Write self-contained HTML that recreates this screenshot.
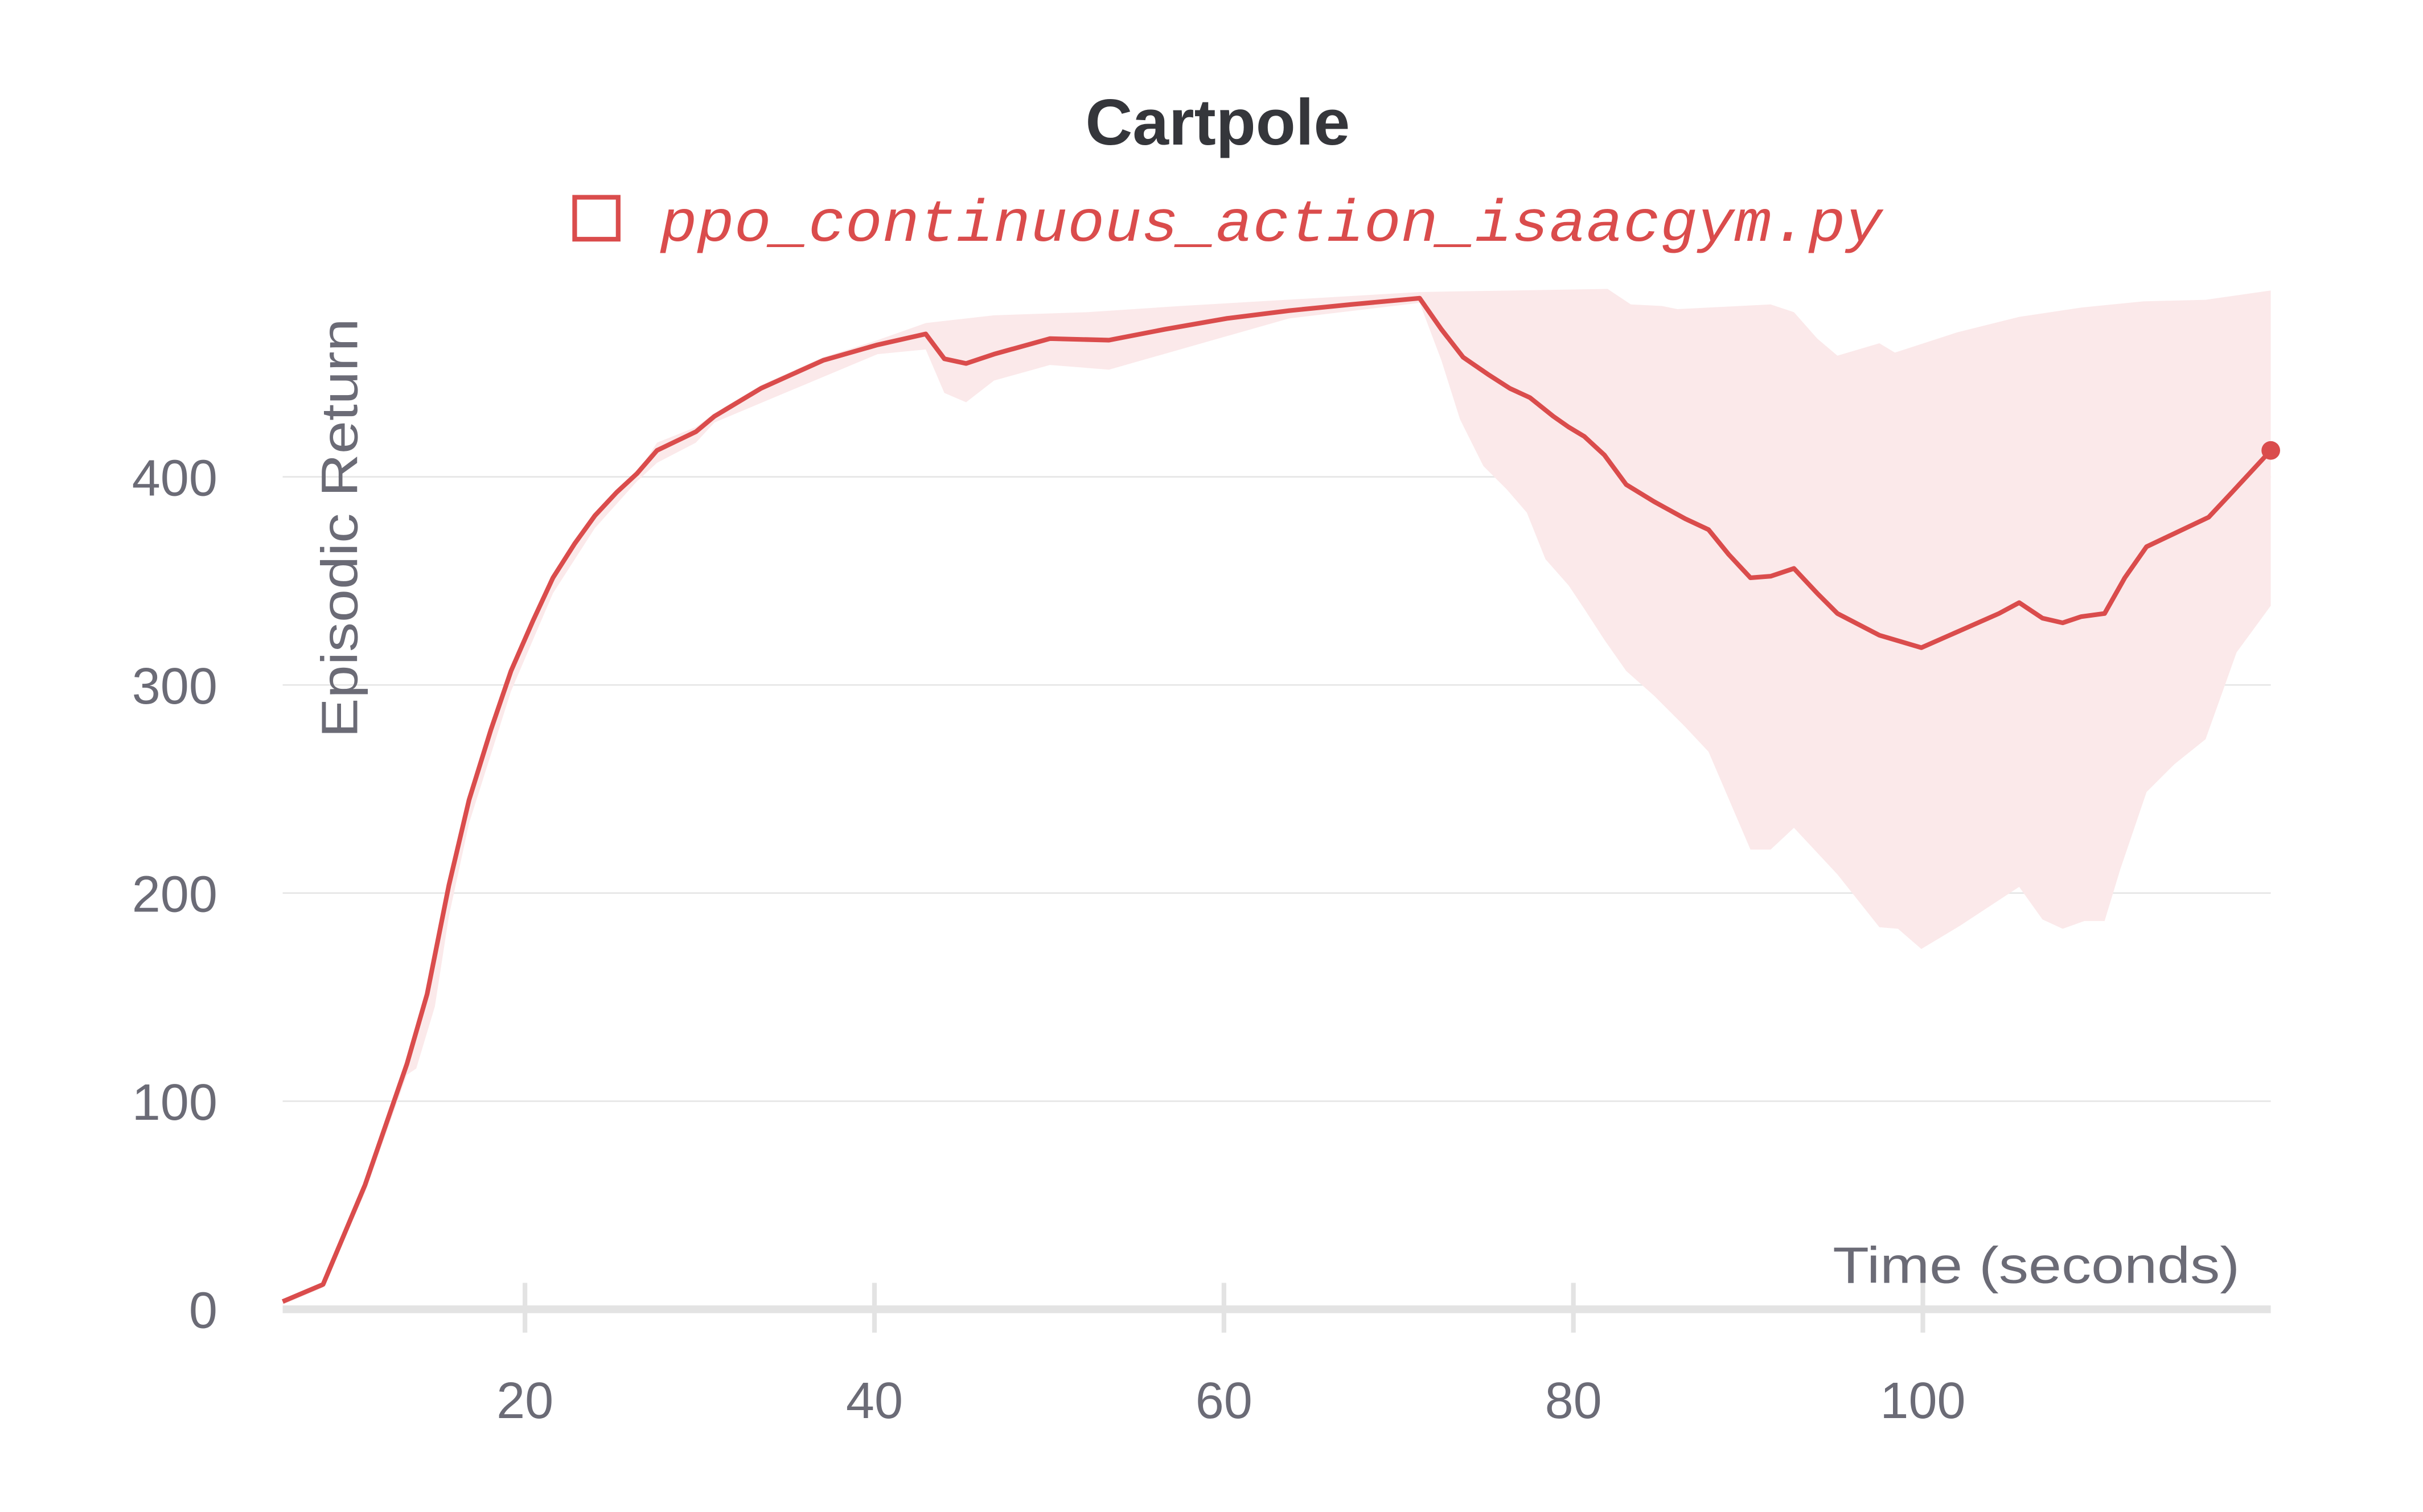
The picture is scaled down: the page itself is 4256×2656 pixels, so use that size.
<!DOCTYPE html>
<html><head><meta charset="utf-8"><style>html,body{margin:0;padding:0;background:#fff;}svg{display:block}</style></head>
<body>
<svg width="4256" height="2656" viewBox="0 0 1560 973.5" xmlns="http://www.w3.org/2000/svg">
<rect width="1560" height="973.5" fill="#fff"/>
<g stroke="#e6e6e6" stroke-width="1">
<line x1="182" y1="709" x2="1462" y2="709"/>
<line x1="182" y1="575" x2="1462" y2="575"/>
<line x1="182" y1="441" x2="1462" y2="441"/>
<line x1="182" y1="307" x2="1462" y2="307"/>
</g>
<polygon fill="#fbe9ea" points="182,838 208,827 235,763 262,685 275,640 289,570 302,515 316,470 329,432 343,400 356,372 370,350 383,332 397,317 410,305 423,285 448,275 460,266 490,248 530,230 565,219 596,208 640,203 700,201 760,197 914,188 1035,186 1050,196 1070,197 1080,199 1100,198 1140,196 1155,201 1170,218 1183,229 1210,221 1220,227 1260,214 1300,204 1340,198 1380,194 1420,193 1462,187 1462,390 1440,420 1420,476 1400,492 1382,510 1365,560 1355,593 1342,593 1328,598 1315,592 1300,571 1262,596 1237,611 1222,598 1210,597 1183,563 1155,533 1140,547 1127,547 1100,484 1085,468 1065,448 1047,432 1033,412 1020,392 1010,377 995,360 983,330 970,315 955,300 940,270 928,232 914,195 830,205 714,238 676,235 640,245 622,259 608,253 596,225 565,228 460,272 448,285 423,298 410,310 383,340 356,382 329,445 302,530 289,590 280,648 268,688 262,692 235,768 208,829 182,840"/>
<polyline fill="none" stroke="#da4c4c" stroke-width="3" stroke-linejoin="round" points="182,838 208,827 235,763 262,685 275,640 289,570 302,515 316,470 329,432 343,400 356,372 370,350 383,332 397,317 410,305 423,290 448,278 460,268 490,250 530,232 565,222 596,215 608,231 622,234 640,228 676,218 714,219 750,212 790,205 830,200 870,196 914,192 928,212 942,230 958,241 972,250 985,256 1000,268 1010,275 1020,281 1033,293 1047,312 1065,323 1085,334 1100,341 1113,357 1127,372 1140,371 1155,366 1170,382 1183,395 1210,409 1237,417 1262,406 1287,395 1300,388 1315,398 1328,401 1340,397 1355,395 1368,372 1382,352 1422,333 1437,317 1462,290"/>
<circle cx="1462" cy="290" r="6" fill="#da4c4c"/>
<line x1="182" y1="843" x2="1462" y2="843" stroke="#e3e3e3" stroke-width="5"/>
<g stroke="#e3e3e3" stroke-width="3">
<line x1="338" y1="826" x2="338" y2="858"/><line x1="563" y1="826" x2="563" y2="858"/><line x1="788" y1="826" x2="788" y2="858"/><line x1="1013" y1="826" x2="1013" y2="858"/><line x1="1238" y1="826" x2="1238" y2="858"/>
</g>
<g font-family="Liberation Sans, sans-serif" font-size="33" fill="#6b6b76">
<g text-anchor="middle">
<text x="338" y="913">20</text><text x="563" y="913">40</text><text x="788" y="913">60</text><text x="1013" y="913">80</text><text x="1238" y="913">100</text>
</g>
<g text-anchor="end">
<text x="140" y="855">0</text><text x="140" y="721">100</text><text x="140" y="587">200</text><text x="140" y="453">300</text><text x="140" y="319">400</text>
</g>
<text x="1180" y="826" textLength="262" lengthAdjust="spacingAndGlyphs">Time (seconds)</text>
<text transform="translate(230,475) rotate(-90)" textLength="270" lengthAdjust="spacingAndGlyphs">Episodic Return</text>
</g>
<text x="784" y="93" text-anchor="middle" font-family="Liberation Sans, sans-serif" font-weight="bold" font-size="42" fill="#35363b">Cartpole</text>
<rect x="370" y="127" width="28" height="27" fill="none" stroke="#da4c4c" stroke-width="3"/>
<text x="425" y="155" font-family="Liberation Mono, monospace" font-style="italic" font-size="38" fill="#da4c4c" textLength="787" lengthAdjust="spacingAndGlyphs">ppo_continuous_action_isaacgym.py</text>
</svg>
</body></html>
